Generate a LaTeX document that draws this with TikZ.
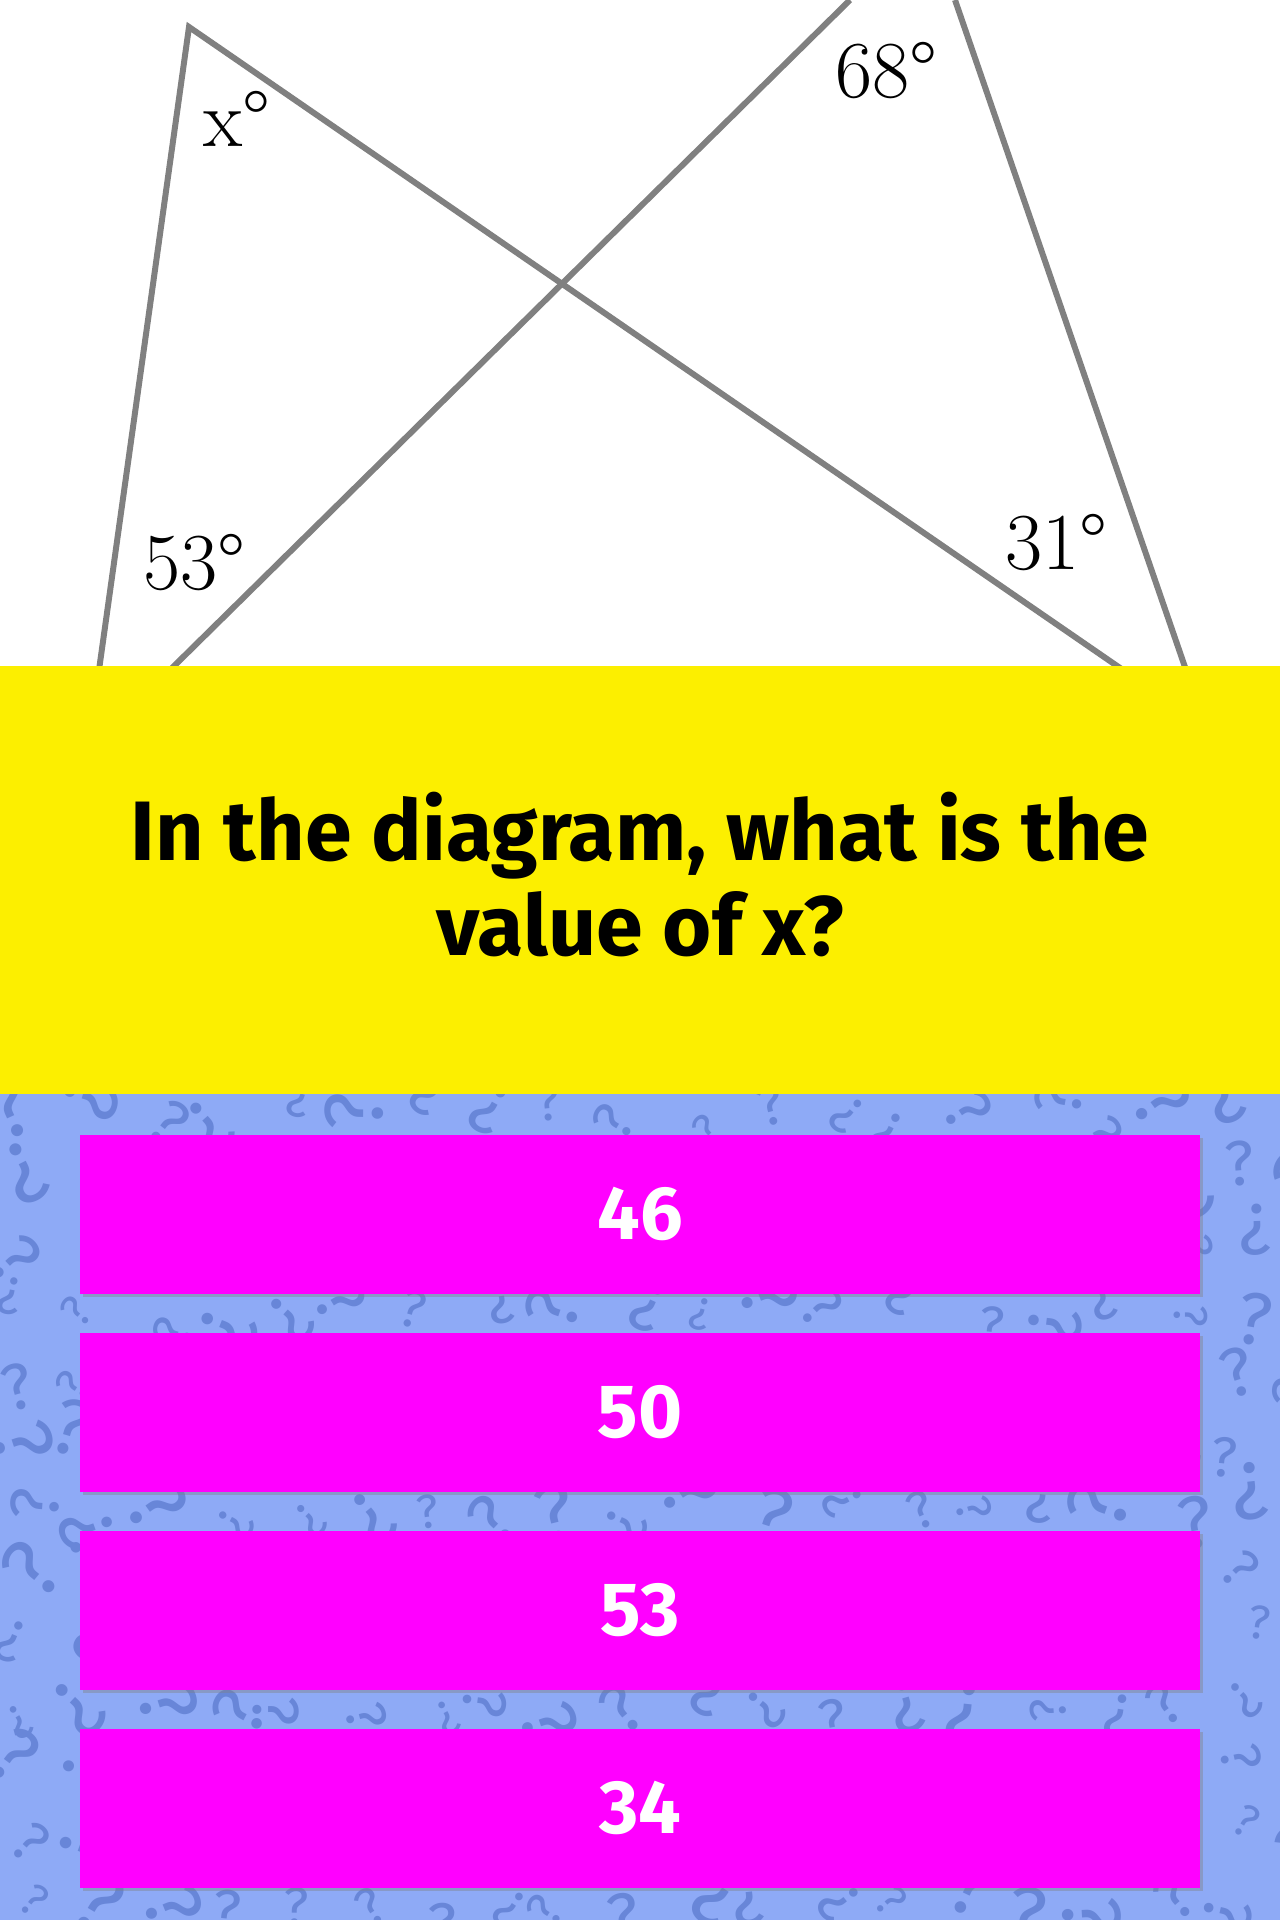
\documentclass[tikz,border=0pt]{standalone}
\usepackage{fontspec}
\setmainfont{Fira Sans}
\usetikzlibrary{positioning,shadows}

\definecolor{skyback}{RGB}{142,170,246}
\definecolor{skymark}{RGB}{104,134,216}
\definecolor{quizyellow}{RGB}{252,239,0}
\definecolor{quizpink}{RGB}{255,0,255}
\definecolor{edgegray}{RGB}{128,128,128}

\tikzset{
  edge/.style={draw=edgegray, line width=3.4pt},
  angle/.style={anchor=base west, inner sep=0pt,
    font=\fontfamily{lmr}\fontsize{46}{50}\selectfont},
  question/.style={anchor=base, inner sep=0pt, font=\fontsize{48}{56}\selectfont\bfseries},
  answer/.style={fill=quizpink, minimum width=22.4cm, minimum height=3.18cm,
    text=white, font=\fontsize{43}{50}\selectfont\bfseries,
    drop shadow={shadow xshift=1.5pt, shadow yshift=-2pt, opacity=.4}},
  qmark/.style={text=skymark, inner sep=0pt}
}

\begin{document}
\begin{tikzpicture}[x=0.02cm, y=-0.02cm]
  \useasboundingbox (0,0) rectangle (1280,1920);

  % the figure
  \fill[white] (0,0) rectangle (1280,666);
  \coordinate (apex) at (189,27);
  \coordinate (footL) at (99,670);
  \coordinate (footR) at (1123,670);
  \coordinate (topA) at (850,0);
  \coordinate (footA) at (170,670);
  \coordinate (topB) at (955,0);
  \coordinate (footB) at (1186,670);
  \draw[edge] (footL) -- (apex) -- (footR);
  \draw[edge] (topA) -- (footA);
  \draw[edge] (topB) -- (footB);

  \node[angle] (angX) at (203,146) {x°};
  \node[angle] (ang68) at (835,97) {68°};
  \node[angle] (ang53) at (143,589) {53°};
  \node[angle] (ang31) at (1005,569) {31°};

  % question band
  \fill[quizyellow] (0,666) rectangle (1280,1094);
  \node[question] (q1) at (640,860) {In the diagram, what is the};
  \node[question] (q2) at (640,955) {value of x?};

  % answers
  \fill[skyback] (0,1094) rectangle (1280,1920);
  \begin{scope}
    \clip (0,1094) rectangle (1280,1920);
    \pgfmathsetseed{42}
    \foreach \row in {0,...,12} {
      \foreach \col in {0,...,19} {
        \pgfmathsetmacro{\px}{\col*68+rnd*40}
        \pgfmathsetmacro{\py}{1094+\row*66+rnd*40}
        \pgfmathsetmacro{\rot}{rnd*360}
        \pgfmathtruncatemacro{\sz}{26+rnd*24}
        \node[qmark, rotate=\rot, font=\fontsize{\sz}{\sz}\selectfont]
          (qm-\row-\col) at (\px,\py) {?};
      }
    }
  \end{scope}

  \foreach \val [count=\k from 0] in {46,50,53,34}
    \node[answer] (ans\val) at (640,{1214+\k*198}) {\val};
\end{tikzpicture}
\end{document}
